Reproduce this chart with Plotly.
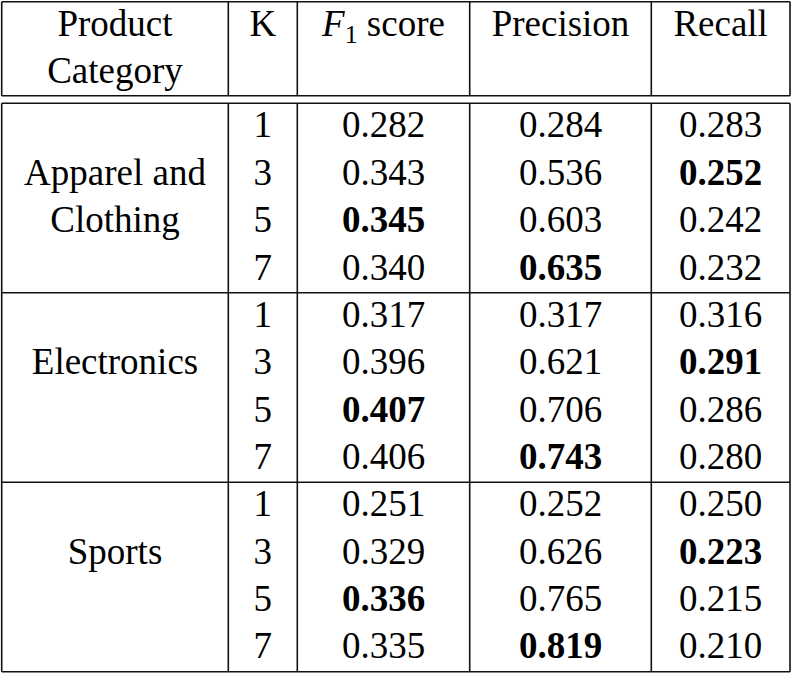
import plotly.graph_objects as go

# ---------------- data ----------------
category_lines = [["Apparel and", "Clothing"], ["Electronics"], ["Sports"]]
k_values = [1, 3, 5, 7]
f1_score = [
    [0.282, 0.343, 0.345, 0.340],
    [0.317, 0.396, 0.407, 0.406],
    [0.251, 0.329, 0.336, 0.335],
]
precision = [
    [0.284, 0.536, 0.603, 0.635],
    [0.317, 0.621, 0.706, 0.743],
    [0.252, 0.626, 0.765, 0.819],
]
recall = [
    [0.283, 0.252, 0.242, 0.232],
    [0.316, 0.291, 0.286, 0.280],
    [0.250, 0.223, 0.215, 0.210],
]
header_lines = [
    ["Product", "Category"],
    ["K"],
    ["<i>F</i><sub>1</sub> score"],
    ["Precision"],
    ["Recall"],
]

# ---------------- layout constants ----------------
W, H = 794, 676
FS = 37
FONT = "Liberation Serif"
LINE_C = "#111111"
LW = 1.6
col_edges = [1.7, 228.3, 297.3, 469.7, 651.3, 790.0]
header_top, header_bottom = 1.7, 95.8
body_top, body_bottom = 103.3, 671.7
n_groups = len(category_lines)
rows_per_group = len(k_values)
n_rows = n_groups * rows_per_group
row_h = (body_bottom - body_top) / n_rows
head_h = (header_bottom - header_top) / 2
BASE = 0.72  # baseline position within a row


def col_center(c):
    return (col_edges[c] + col_edges[c + 1]) / 2


def text_y(top, h):
    return top + BASE * h - 0.25 * FS


fig = go.Figure()


def add_text(xs, ys, texts):
    fig.add_trace(go.Scatter(
        x=xs, y=ys, text=texts, mode="text", textposition="middle center",
        textfont=dict(family=FONT, size=FS, color="black"),
        hoverinfo="skip", showlegend=False,
    ))


# header
for c, lines in enumerate(header_lines):
    add_text([col_center(c)] * len(lines),
             [text_y(header_top + li * head_h, head_h) for li in range(len(lines))],
             lines)

# body
for g in range(n_groups):
    group_top = body_top + g * rows_per_group * row_h
    lines = category_lines[g]
    # category label lines occupy rows starting at the second row
    add_text([col_center(0)] * len(lines),
             [text_y(group_top + (1 + li) * row_h, row_h) for li in range(len(lines))],
             lines)
    add_text([col_center(1)] * len(k_values),
             [text_y(group_top + j * row_h, row_h) for j in range(len(k_values))],
             [str(k) for k in k_values])
    for ci, series in enumerate([f1_score, precision, recall]):
        vals = series[g]
        # best value among K > 1 is highlighted
        best = max(v for k, v in zip(k_values, vals) if k > 1)
        labels = []
        for j, v in enumerate(vals):
            s = f"{v:.3f}"
            if k_values[j] > 1 and v == best:
                s = f"<b>{s}</b>"
            labels.append(s)
        add_text([col_center(2 + ci)] * len(vals),
                 [text_y(group_top + j * row_h, row_h) for j in range(len(vals))],
                 labels)

shapes = []
line = dict(color=LINE_C, width=LW)
# horizontal rules
hr = [header_top, header_bottom, body_top, body_bottom]
hr += [body_top + g * rows_per_group * row_h for g in range(1, n_groups)]
for y in hr:
    shapes.append(dict(type="line", xref="x", yref="y", x0=col_edges[0], x1=col_edges[-1],
                       y0=y, y1=y, line=line))
# vertical rules
for x in col_edges:
    for (y0, y1) in [(header_top, header_bottom), (body_top, body_bottom)]:
        shapes.append(dict(type="line", xref="x", yref="y", x0=x, x1=x, y0=y0, y1=y1, line=line))

fig.update_layout(
    width=W, height=H, margin=dict(l=0, r=0, t=0, b=0),
    paper_bgcolor="white", plot_bgcolor="white",
    xaxis=dict(range=[0, W], visible=False, fixedrange=True),
    yaxis=dict(range=[H, 0], visible=False, fixedrange=True),
    shapes=shapes, showlegend=False,
)
fig.write_html(
    "out.html",
    config={"displayModeBar": False},
    post_script="document.body.style.margin='0';document.body.style.overflow='hidden';",
)
